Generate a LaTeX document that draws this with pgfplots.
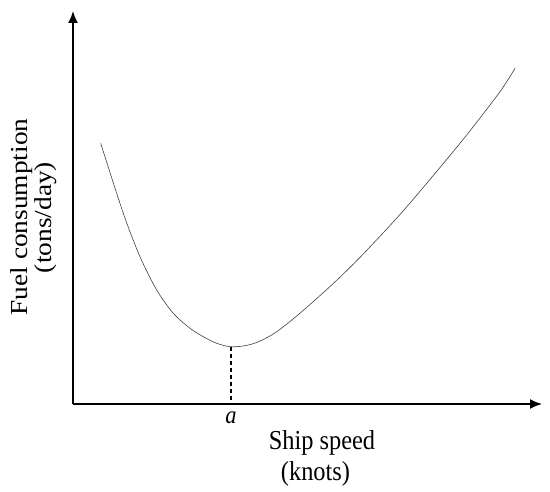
\documentclass[border=0pt]{standalone}
\usepackage{fontspec}
\setmainfont{Liberation Serif}
\usepackage{pgfplots}
\pgfplotsset{compat=1.18}
\usetikzlibrary{arrows.meta}

\begin{document}
\begin{tikzpicture}
	\begin{axis}[
		scale only axis,
		width=469bp,
		height=393bp,
		xmin=73, xmax=542,
		ymin=0, ymax=393,
		axis lines=left,
		axis line style={line width=1.6pt, -{Latex[length=12bp,width=10bp]}},
		xtick=\empty,
		ytick=\empty,
		clip=false,
		]
		% fuel use against speed
		\addplot[smooth, tension=0.5, line width=0.6pt, black!75] coordinates {
			(100.7, 260.7)
			(123.3, 190.7)
			(140.0, 147.3)
			(156.7, 114.0)
			(173.3, 90.7)
			(190.0, 75.7)
			(203.3, 67.3)
			(216.7, 60.7)
			(230.0, 57.3)
			(243.3, 58.0)
			(256.7, 61.5)
			(273.3, 70.0)
			(290.0, 82.5)
			(310.0, 99.5)
			(333.3, 120.5)
			(350.0, 136.6)
			(366.7, 153.6)
			(400.0, 189.5)
			(433.3, 228.5)
			(466.7, 269.0)
			(500.0, 312.3)
			(515.0, 335.7)
		};
		\addplot[line width=1.2pt, dash pattern=on 4bp off 3bp, black] coordinates {
			(231, 57.3)
			(231, 0)
		};
		\node[xscale=0.9, font=\fontsize{25}{28}\selectfont\itshape] at (axis cs:231,-14) {a};
		\node[xscale=0.89, font=\fontsize{27.5}{28}\selectfont] at (axis cs:322,-39) {Ship speed};
		\node[xscale=0.89, font=\fontsize{27.5}{28}\selectfont] at (axis cs:315.5,-70) {(knots)};
		\node[xscale=0.89, rotate=90, font=\fontsize{27.5}{28}\selectfont] at (axis cs:21.5,187) {Fuel consumption};
		\node[xscale=0.89, rotate=90, font=\fontsize{27.5}{28}\selectfont] at (axis cs:46,186.5) {(tons/day)};
		\coordinate (bl) at (axis cs:0,-88);
		\coordinate (tr) at (axis cs:550,404);
	\end{axis}
	\pgfresetboundingbox
	\path[use as bounding box] (bl) rectangle (tr);
\end{tikzpicture}
\end{document}
